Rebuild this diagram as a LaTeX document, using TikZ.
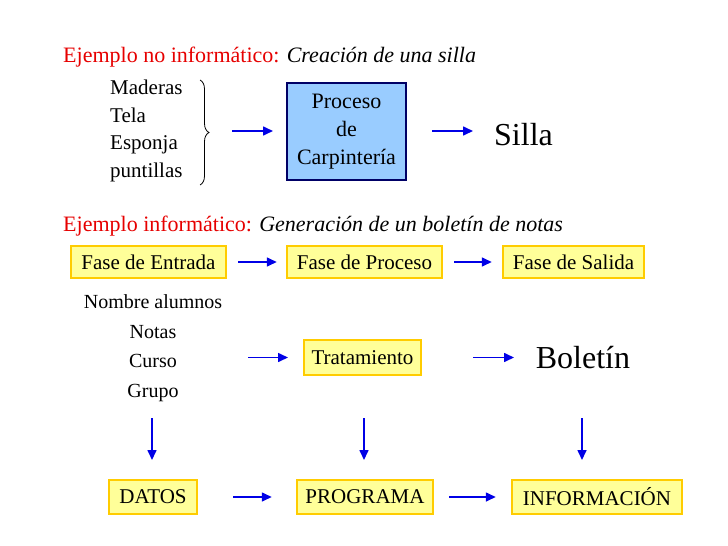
\documentclass[tikz,border=0pt]{standalone}
\usepackage{fontspec}
\setmainfont{Liberation Serif}
\usetikzlibrary{arrows.meta,decorations.pathreplacing}
\definecolor{myblue}{RGB}{0,0,230}
\definecolor{boxblue}{RGB}{153,204,255}
\definecolor{navy}{RGB}{0,0,102}
\definecolor{ybox}{RGB}{255,255,153}
\definecolor{gold}{RGB}{255,204,0}
\definecolor{tred}{RGB}{230,0,0}
\tikzset{
  arr/.style={-{Triangle[length=10pt,width=9pt]},myblue,line width=1.6pt},
  ybx/.style={draw=gold,fill=ybox,line width=2.5pt,inner sep=0pt,font=\fontsize{21}{24}\selectfont},
  txt/.style={font=\fontsize{22}{25}\selectfont,inner sep=0pt},
  big/.style={font=\fontsize{32}{34}\selectfont,inner sep=0pt}
}
\begin{document}
\begin{tikzpicture}[x=1pt,y=-1pt]
\useasboundingbox (0,0) rectangle (728,546);
\node[txt,anchor=west] (t1) at (63,57) {\textcolor{tred}{Ejemplo no informático:} \textit{Creación de una silla}};
\node[txt,anchor=west,align=left,font=\fontsize{21}{27.5}\selectfont] (list1) at (110,131) {Maderas\\Tela\\Esponja\\puntillas};
\coordinate (b1) at (200,80); \coordinate (b2) at (200,185);
\draw[line width=0.8pt,decorate,decoration={brace,amplitude=9pt}] (b1) -- (b2);
\node[draw=navy,fill=boxblue,line width=2.5pt,minimum width=119pt,minimum height=97pt,align=center,font=\fontsize{22}{28}\selectfont] (pc) at (346.5,131.5) {Proceso\\de\\Carpintería};
\coordinate (a1) at (232,131);
\draw[arr] (a1) -- ++(41,0);
\node[big,anchor=west] (silla) at (494,135) {Silla};
\coordinate (a2) at (432,131);
\draw[arr] (a2) -- ++(41,0);
\node[txt,anchor=west] (t2) at (63,226) {\textcolor{tred}{Ejemplo informático:} \textit{Generación de un boletín de notas}};
\node[ybx,minimum width=155pt,minimum height=32pt] (fe) at (148.5,262) {Fase de Entrada};
\node[ybx,minimum width=155pt,minimum height=32pt] (fp) at (364.5,262) {Fase de Proceso};
\node[ybx,minimum width=141pt,minimum height=32pt] (fs) at (573.5,262) {Fase de Salida};
\draw[arr] ([xshift=11pt]fe.east) -- ([xshift=-9pt]fp.west);
\draw[arr] ([xshift=11pt]fp.east) -- ([xshift=-10pt]fs.west);
\node[txt,align=center,font=\fontsize{20}{29.5}\selectfont] (list2) at (153,348) {Nombre alumnos\\Notas\\Curso\\Grupo};
\node[ybx,minimum width=117pt,minimum height=35pt] (tr) at (362.5,357.5) {Tratamiento};
\coordinate (a3) at (248,357.5);
\draw[arr] (a3) -- ++(40,0);
\node[big] (bol) at (583,358) {Boletín};
\coordinate (a4) at (473,357.5);
\draw[arr] (a4) -- ++(41,0);
\node[ybx,minimum width=88pt,minimum height=34pt] (da) at (153,497) {DATOS};
\node[ybx,minimum width=136pt,minimum height=34pt] (pr) at (365,497) {PROGRAMA};
\node[ybx,minimum width=170pt,minimum height=34pt] (in) at (597,497) {INFORMACIÓN};
\coordinate (d1) at (152,418); \coordinate (d2) at (364,418); \coordinate (d3) at (582,418);
\draw[arr] (d1) -- ++(0,42);
\draw[arr] (d2) -- ++(0,42);
\draw[arr] (d3) -- ++(0,42);
\draw[arr] ([xshift=35pt]da.east) -- ([xshift=-24pt]pr.west);
\draw[arr] ([xshift=15pt]pr.east) -- ([xshift=-15pt]in.west);
\end{tikzpicture}
\end{document}
